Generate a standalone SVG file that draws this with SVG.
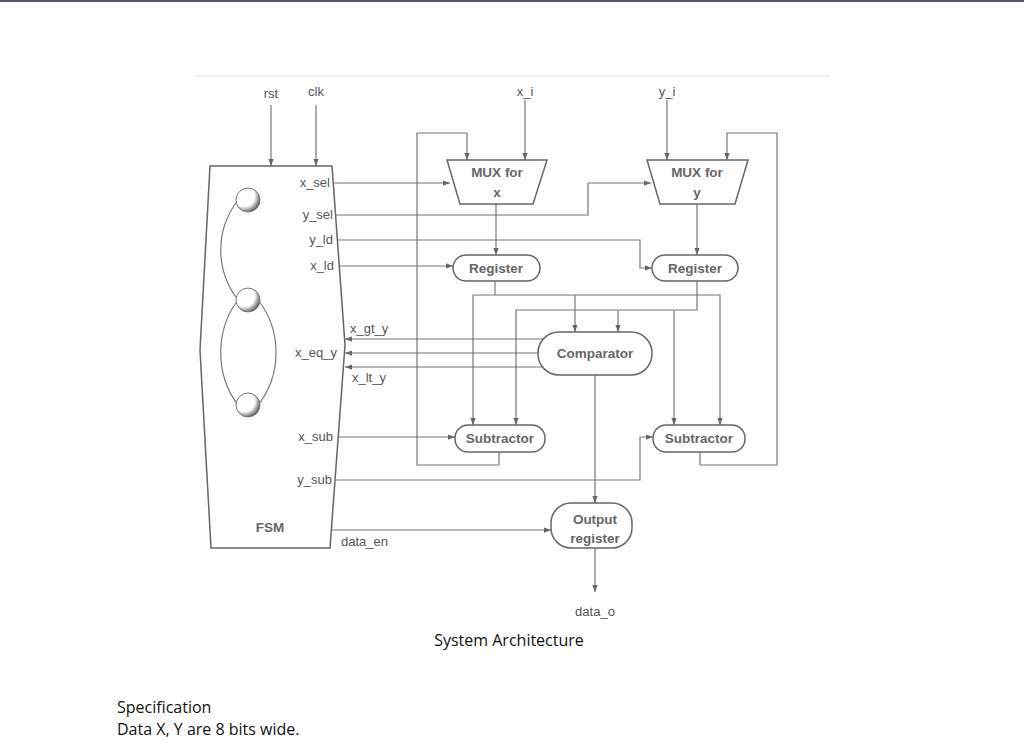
<svg xmlns="http://www.w3.org/2000/svg" width="1024" height="744" viewBox="0 0 1024 744">
<defs>
<marker id="a" viewBox="0 0 8 8" refX="8" refY="4" markerWidth="6" markerHeight="6" orient="auto"><path d="M0,1 L8,4 L0,7z" fill="#666"/></marker>
<radialGradient id="sh" cx="0.35" cy="0.35" r="0.7"><stop offset="0.6" stop-color="#fff"/><stop offset="1" stop-color="#555"/></radialGradient>
</defs>
<style>
.l{fill:none;stroke:#777;stroke-width:1.2}
.b{fill:#fff;stroke:#666;stroke-width:1.5}
.t{font-family:"Liberation Sans",Arial,sans-serif;font-size:13px;fill:#555}
.bt{font-family:"Liberation Sans",Arial,sans-serif;font-size:13.5px;font-weight:bold;fill:#666;text-anchor:middle}
.c{font-family:"Open Sans","Liberation Sans",sans-serif;font-size:16px;fill:#111}
</style>
<rect width="1024" height="744" fill="#fff"/>
<line x1="0" y1="1" x2="1024" y2="1" stroke="#556" stroke-width="2"/>
<line x1="195" y1="76" x2="830" y2="76" stroke="#f0f0f0" stroke-width="2"/>
<g id="connectors">
<path class="l" d="M271,105V166" marker-end="url(#a)"/>
<path class="l" d="M316,105V166" marker-end="url(#a)"/>
<path class="l" d="M525,100V160" marker-end="url(#a)"/>
<path class="l" d="M667,100V160" marker-end="url(#a)"/>
<path class="l" d="M334,183H450" marker-end="url(#a)"/>
<path class="l" d="M336,215H588V183H651" marker-end="url(#a)"/>
<path class="l" d="M337,240H640V268H652" marker-end="url(#a)"/>
<path class="l" d="M338,266H453" marker-end="url(#a)"/>
<path class="l" d="M499,452V465H417V133H467V160" marker-end="url(#a)"/>
<path class="l" d="M700,452V465H777V133H727V160" marker-end="url(#a)"/>
<path class="l" d="M496,204V255" marker-end="url(#a)"/>
<path class="l" d="M697,204V255" marker-end="url(#a)"/>
<path class="l" d="M495,280V295"/>
<path class="l" d="M473,295H720V425" marker-end="url(#a)"/>
<path class="l" d="M473,295V425" marker-end="url(#a)"/>
<path class="l" d="M697,281V310H516V425" marker-end="url(#a)"/>
<path class="l" d="M674,310V425" marker-end="url(#a)"/>
<path class="l" d="M575,295V332" marker-end="url(#a)"/>
<path class="l" d="M618,310V332" marker-end="url(#a)"/>
<path class="l" d="M545,339H345" marker-end="url(#a)"/>
<path class="l" d="M539,353H345" marker-end="url(#a)"/>
<path class="l" d="M545,367H345" marker-end="url(#a)"/>
<path class="l" d="M595,375V503" marker-end="url(#a)"/>
<path class="l" d="M339,437H455" marker-end="url(#a)"/>
<path class="l" d="M334,480H640V437H653" marker-end="url(#a)"/>
<path class="l" d="M330,530H551" marker-end="url(#a)"/>
<path class="l" d="M595,548V592" marker-end="url(#a)"/>
</g>
<g id="fsm">
<path class="b" d="M210,166H332L345,345L330,548H211L200,350Z"/>
<path class="l" d="M238,200C215,230,215,270,238,300"/>
<path class="l" d="M238,300C215,330,215,375,238,405"/>
<path class="l" d="M258,300C282,330,282,375,258,405"/>
<circle cx="248" cy="200" r="12" fill="url(#sh)" stroke="#777"/>
<circle cx="248" cy="300" r="12" fill="url(#sh)" stroke="#777"/>
<circle cx="248" cy="405" r="12" fill="url(#sh)" stroke="#777"/>
<text class="t" x="330" y="187" text-anchor="end">x_sel</text>
<text class="t" x="333" y="219" text-anchor="end">y_sel</text>
<text class="t" x="333" y="244" text-anchor="end">y_ld</text>
<text class="t" x="334" y="270" text-anchor="end">x_ld</text>
<text class="t" x="337" y="357" text-anchor="end">x_eq_y</text>
<text class="t" x="333" y="441" text-anchor="end">x_sub</text>
<text class="t" x="332" y="484" text-anchor="end">y_sub</text>
<text class="bt" x="270" y="532">FSM</text>
</g>
<g id="labels">
<text class="t" x="271" y="98" text-anchor="middle">rst</text>
<text class="t" x="316" y="96" text-anchor="middle">clk</text>
<text class="t" x="525" y="96" text-anchor="middle">x_i</text>
<text class="t" x="667" y="96" text-anchor="middle">y_i</text>
<text class="t" x="350" y="333">x_gt_y</text>
<text class="t" x="352" y="382">x_lt_y</text>
<text class="t" x="341" y="546">data_en</text>
<text class="t" x="595" y="616" text-anchor="middle">data_o</text>
</g>
<g id="muxx"><path class="b" d="M447,160H547L533,204H460Z"/><text class="bt" x="497" y="177">MUX for</text><text class="bt" x="497" y="197">x</text></g>
<g id="muxy"><path class="b" d="M647,160H748L735,204H660Z"/><text class="bt" x="697" y="177">MUX for</text><text class="bt" x="697" y="197">y</text></g>
<g id="regx"><rect class="b" x="453" y="255" width="87" height="26" rx="13"/><text class="bt" x="496" y="273">Register</text></g>
<g id="regy"><rect class="b" x="652" y="255" width="86" height="26" rx="13"/><text class="bt" x="695" y="273">Register</text></g>
<g id="comp"><rect class="b" x="538" y="332" width="114" height="43" rx="21"/><text class="bt" x="595" y="358">Comparator</text></g>
<g id="subx"><rect class="b" x="455" y="425" width="90" height="27" rx="13"/><text class="bt" x="500" y="443">Subtractor</text></g>
<g id="suby"><rect class="b" x="653" y="425" width="92" height="27" rx="13"/><text class="bt" x="699" y="443">Subtractor</text></g>
<g id="outreg"><rect class="b" x="551" y="503" width="81" height="45" rx="20"/><text class="bt" x="595" y="524">Output</text><text class="bt" x="595" y="543">register</text></g>
<text class="c" x="509" y="646" text-anchor="middle">System Architecture</text>
<text class="c" x="117" y="713">Specification</text>
<text class="c" x="117" y="735">Data X, Y are 8 bits wide.</text>
</svg>
